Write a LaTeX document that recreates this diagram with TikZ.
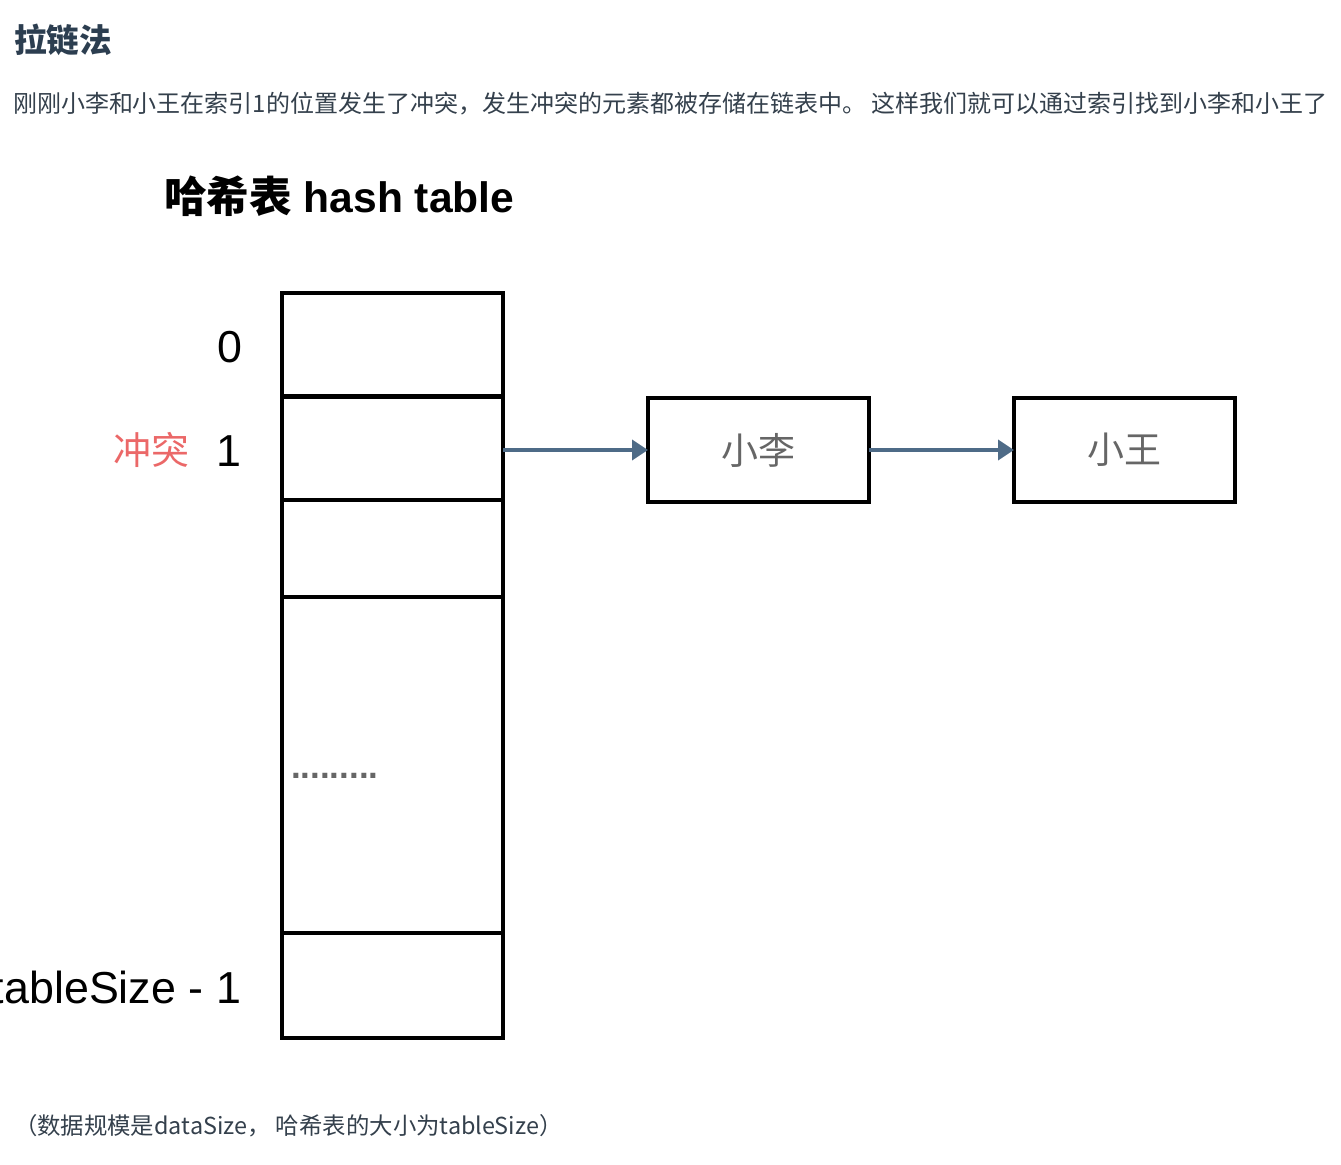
\documentclass[tikz,border=0pt]{standalone}
\usepackage{fontspec}
\setmainfont{Liberation Sans}
\newfontfamily\cjk{Noto Sans CJK SC}
\usetikzlibrary{arrows.meta}
\definecolor{ink}{HTML}{2C3E50}
\definecolor{txt}{HTML}{34404C}
\definecolor{conf}{RGB}{235,104,104}
\definecolor{arr}{HTML}{4E6B87}
\definecolor{boxtxt}{HTML}{666666}
\newcommand{\fsz}[1]{\fontsize{#1}{1.2\dimexpr#1\relax}\selectfont}
\tikzset{
  txtnode/.style={inner sep=0pt, outer sep=0pt},
  cell/.style={draw=black, line width=2pt, minimum width=110.5pt, inner sep=0pt, outer sep=0pt},
  listbox/.style={draw=black, line width=2pt, minimum width=110.5pt, minimum height=52pt, inner sep=0pt, outer sep=0pt, text=boxtxt, font=\cjk\fsz{18.5pt}},
  idx/.style={txtnode, anchor=east, font=\fsz{22.4pt}},
  link/.style={draw=arr, line width=1.8pt, -{Triangle[length=8pt,width=10pt]}}
}
\begin{document}
\begin{tikzpicture}[x=0.5pt,y=-0.5pt]
\useasboundingbox (0,0) rectangle (1341,1165);
% heading and paragraph
\node[txtnode, anchor=west, text=ink, font=\cjk\bfseries\fsz{16.3pt}] (head) at (14,40) {拉链法};
\node[txtnode, anchor=west, text=txt, font=\cjk\fsz{12pt}] (para) at (13,104) {刚刚小李和小王在索引1的位置发生了冲突，发生冲突的元素都被存储在链表中。 这样我们就可以通过索引找到小李和小王了};
% title
\node[txtnode, anchor=west, font=\bfseries\fsz{21.3pt}] (title) at (164,196) {{\cjk 哈希表} hash table};
% table cells
\node[cell, minimum height=51.5pt] (c0) at (392.5,344.5) {};
\node[cell, minimum height=51.5pt] (c1) at (392.5,448.5) {};
\node[cell, minimum height=48.5pt] (c2) at (392.5,548.5) {};
\node[cell, minimum height=168pt] (c3) at (392.5,765) {};
\node[cell, minimum height=52.5pt] (c4) at (392.5,985.5) {};
\node[txtnode, anchor=base west, text=boxtxt, font=\bfseries\fsz{17.5pt}] (dots) at (291,779) {.........};
% index labels
\node[idx] (l0) at (242,347) {0};
\node[idx] (l1) at (241,451) {1};
\node[idx] (ln) at (241,987) {tableSize - 1};
\node[txtnode, anchor=east, text=conf, font=\cjk\fsz{19pt}] (conflict) at (189,450) {冲突};
% linked list
\node[listbox] (lee) at (758.5,450) {小李};
\node[listbox] (wang) at (1124.5,450) {小王};
\draw[link] (c1.east |- lee.west) -- (lee.west);
\draw[link] (lee.east) -- (wang.west);
% caption
\node[txtnode, anchor=west, text=txt, font=\cjk\fsz{11.7pt}] (cap) at (14,1126) {（数据规模是dataSize， 哈希表的大小为tableSize）};
\end{tikzpicture}
\end{document}
